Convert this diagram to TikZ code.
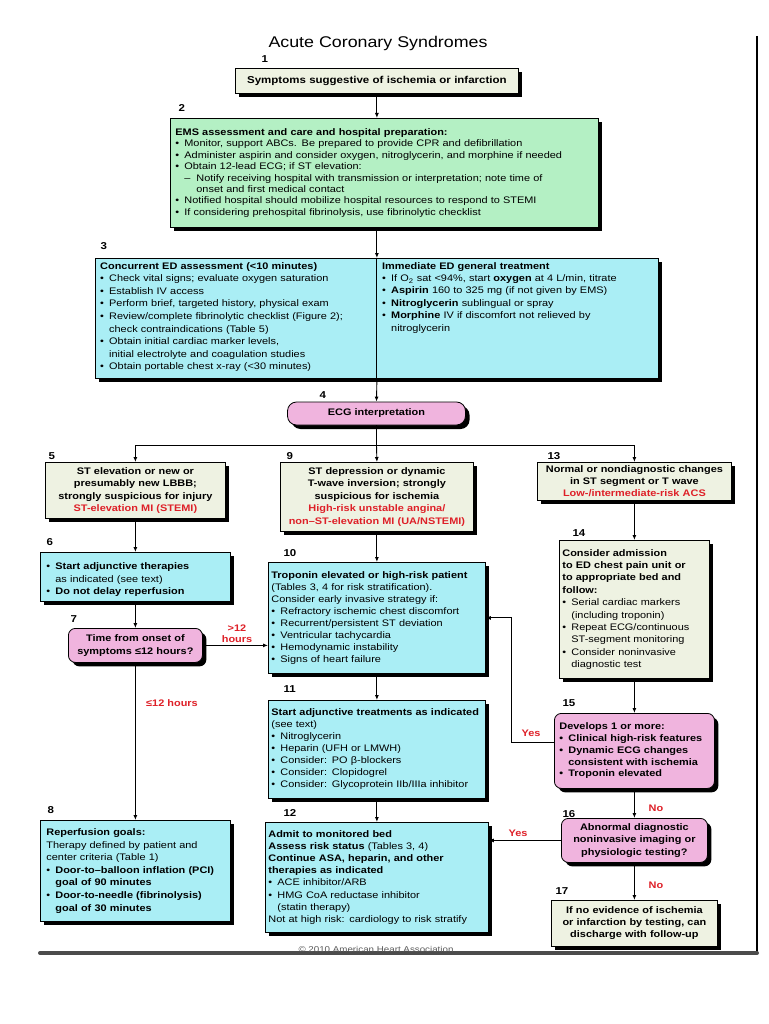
\documentclass[tikz,border=0pt]{standalone}
\usepackage{fontspec}
\setmainfont{Liberation Sans}[FakeStretch=1.15]
\usepackage{tikz}
\usetikzlibrary{arrows.meta, positioning, shadows, calc}

\definecolor{palebox}{RGB}{238,242,226}
\definecolor{emsgreen}{RGB}{180,240,196}
\definecolor{edcyan}{RGB}{170,238,245}
\definecolor{ecgpink}{RGB}{240,180,222}
\definecolor{riskred}{RGB}{222,32,40}

\setlength{\parindent}{0pt}
\newcommand{\bl}{\par\hangindent=9pt\hangafter=1\noindent\makebox[9pt][l]{\textbullet}}
\newcommand{\dl}{\par\hangindent=21pt\hangafter=1\noindent\hspace*{9pt}\makebox[12pt][l]{--}}
\newcommand{\red}[1]{\textcolor{riskred}{#1}}

\begin{document}
\begin{tikzpicture}[x=1pt, y=-1pt, >={Latex[length=5pt,width=4pt]},
  box/.style={draw=black, line width=0.8pt, fill=#1, anchor=north west,
    inner xsep=3pt, inner ysep=3pt, align=left,
    font=\fontsize{9.5}{12}\selectfont,
    drop shadow={shadow xshift=4pt, shadow yshift=-4pt, fill=black, opacity=1}},
  dbox/.style={box=#1, rounded corners=7pt},
  ctr/.style={align=center, font=\bfseries\fontsize{9.5}{12.5}\selectfont},
  num/.style={anchor=base west, font=\bfseries\fontsize{10}{12}\selectfont},
  ans/.style={text=riskred, align=center, font=\bfseries\fontsize{9.5}{11}\selectfont},
  line/.style={line width=0.9pt}]
  \useasboundingbox (0,0) rectangle (768,1024);

  % title and frame
  \node[font=\fontsize{15.5}{18}\selectfont] (title) at (378,43) {Acute Coronary Syndromes};
  \draw[line width=1.5pt] (757,36) -- (757,953);
  \draw[line width=4pt, gray!60!black, line cap=round] (40,953) -- (757,953);
  \node[font=\fontsize{8.5}{9}\selectfont, text=black!65] (copy) at (376,949) {\textcopyright\ 2010 American Heart Association};

  % step 1 and 2
  \node[num] (n1) at (258,63) {1};
  \node[box=palebox, ctr, text width=277pt, minimum height=25pt, font=\bfseries\fontsize{10}{12}\selectfont] (b1) at (235,68)
    {Symptoms suggestive of ischemia or infarction};
  \node[num] (n2) at (175,112) {2};
  \node[box=emsgreen, text width=418pt, inner xsep=5pt, minimum height=109pt, font=\fontsize{9.5}{11.4}\selectfont] (b2) at (170,118)
    {\textbf{EMS assessment and care and hospital preparation:}
    \bl Monitor, support ABCs. Be prepared to provide CPR and defibrillation
    \bl Administer aspirin and consider oxygen, nitroglycerin, and morphine if needed
    \bl Obtain 12-lead ECG; if ST elevation:
    \dl Notify receiving hospital with transmission or interpretation; note time of\newline onset and first medical contact
    \bl Notified hospital should mobilize hospital resources to respond to STEMI
    \bl If considering prehospital fibrinolysis, use fibrinolytic checklist\par};

  % step 3 (two halves split by the main line)
  \node[num] (n3) at (97,249) {3};
  \node[box=edcyan, minimum width=563pt, minimum height=120pt] (b3) at (95,258) {};
  \node[anchor=north west, text width=272pt, inner sep=0pt, align=left, font=\fontsize{9.5}{12.6}\selectfont] (b3l) at (100,262)
    {\textbf{Concurrent ED assessment (<10 minutes)}
    \bl Check vital signs; evaluate oxygen saturation
    \bl Establish IV access
    \bl Perform brief, targeted history, physical exam
    \bl Review/complete fibrinolytic checklist (Figure 2);\newline check contraindications (Table 5)
    \bl Obtain initial cardiac marker levels,\newline initial electrolyte and coagulation studies
    \bl Obtain portable chest x-ray (<30 minutes)\par};
  \node[anchor=north west, text width=272pt, inner sep=0pt, align=left, font=\fontsize{9.5}{12.4}\selectfont] (b3r) at (382,262)
    {\textbf{Immediate ED general treatment}
    \bl If O\textsubscript{2} sat <94\%, start \textbf{oxygen} at 4 L/min, titrate
    \bl \textbf{Aspirin} 160 to 325 mg (if not given by EMS)
    \bl \textbf{Nitroglycerin} sublingual or spray
    \bl \textbf{Morphine} IV if discomfort not relieved by\newline nitroglycerin\par};

  % step 4
  \node[num] (n4) at (316,398) {4};
  \node[dbox=ecgpink, ctr, anchor=center, minimum width=178pt, minimum height=23pt, rounded corners=9pt] (b4) at (376.5,413.5)
    {ECG interpretation};

  % three branches
  \node[num] (n5) at (45,459) {5};
  \node[box=palebox, ctr, text width=174pt, minimum height=56pt] (b5) at (45,462)
    {ST elevation or new or\\presumably new LBBB;\\strongly suspicious for injury\\\red{ST-elevation MI (STEMI)}};
  \node[num] (n9) at (283,459) {9};
  \node[box=palebox, ctr, text width=187pt, minimum height=69pt] (b9) at (280,462)
    {ST depression or dynamic\\T-wave inversion; strongly\\suspicious for ischemia\\\red{High-risk unstable angina/}\\\red{non--ST-elevation MI (UA/NSTEMI)}};
  \node[num] (n13) at (544,459) {13};
  \node[box=palebox, ctr, text width=188pt, minimum height=38pt, font=\bfseries\fontsize{9.5}{12}\selectfont] (b13) at (537,462)
    {Normal or nondiagnostic changes\\in ST segment or T wave\\\red{Low-/intermediate-risk ACS}};

  % STEMI column
  \node[num] (n6) at (43,545) {6};
  \node[box=edcyan, text width=178pt, inner xsep=6pt, minimum height=49pt, font=\fontsize{9.5}{12.5}\selectfont] (b6) at (40,552)
    {\bl \textbf{Start adjunctive therapies}\newline as indicated (see text)
    \bl \textbf{Do not delay reperfusion}\par};
  \node[num] (n7) at (67,622) {7};
  \node[dbox=ecgpink, ctr, text width=128pt, minimum height=34pt] (b7) at (68,628)
    {Time from onset of\\symptoms ≤12 hours?};
  \node[num] (n8) at (44,813) {8};
  \node[box=edcyan, text width=178pt, inner xsep=6pt, minimum height=101pt, font=\fontsize{9.5}{12.6}\selectfont] (b8) at (40,820)
    {\textbf{Reperfusion goals:}\newline Therapy defined by patient and\newline center criteria (Table 1)
    \bl \textbf{Door-to--balloon inflation (PCI)\newline goal of 90 minutes}
    \bl \textbf{Door-to-needle (fibrinolysis)\newline goal of 30 minutes}\par};

  % UA/NSTEMI column
  \node[num] (n10) at (280,556) {10};
  \node[box=edcyan, text width=211pt, minimum height=111pt] (b10) at (268,562)
    {\mbox{\textbf{Troponin elevated or high-risk patient}}\newline (Tables 3, 4 for risk stratification).\newline Consider early invasive strategy if:
    \bl Refractory ischemic chest discomfort
    \bl Recurrent/persistent ST deviation
    \bl Ventricular tachycardia
    \bl Hemodynamic instability
    \bl Signs of heart failure\par};
  \node[num] (n11) at (280,692) {11};
  \node[box=edcyan, text width=211pt, minimum height=98pt] (b11) at (268,700)
    {\mbox{\textbf{Start adjunctive treatments as indicated}}\newline (see text)
    \bl Nitroglycerin
    \bl Heparin (UFH or LMWH)
    \bl Consider: PO β-blockers
    \bl Consider: Clopidogrel
    \bl Consider: Glycoprotein IIb/IIIa inhibitor\par};
  \node[num] (n12) at (280,816) {12};
  \node[box=edcyan, text width=217pt, minimum height=110pt, font=\fontsize{9.5}{12.2}\selectfont] (b12) at (265,822)
    {\textbf{Admit to monitored bed}\newline \textbf{Assess risk status} (Tables 3, 4)\newline \textbf{Continue ASA, heparin, and other\newline therapies as indicated}
    \bl ACE inhibitor/ARB
    \bl HMG CoA reductase inhibitor\newline (statin therapy)
    \par\mbox{Not at high risk: cardiology to risk stratify}\par};

  % low/intermediate-risk column
  \node[num] (n14) at (569,536) {14};
  \node[box=palebox, text width=144pt, minimum height=138pt, font=\fontsize{9.5}{12.4}\selectfont] (b14) at (559,540)
    {\textbf{Consider admission\newline to ED chest pain unit or\newline to appropriate bed and\newline follow:}
    \bl Serial cardiac markers\newline (including troponin)
    \bl Repeat ECG/continuous\newline ST-segment monitoring
    \bl Consider noninvasive\newline diagnostic test\par};
  \node[num] (n15) at (559,706) {15};
  \node[dbox=ecgpink, text width=150pt, inner xsep=5pt, minimum height=75pt, font=\bfseries\fontsize{9.5}{11.8}\selectfont] (b15) at (554,713)
    {Develops 1 or more:
    \bl Clinical high-risk features
    \bl Dynamic ECG changes\newline consistent with ischemia
    \bl Troponin elevated\par};
  \node[num] (n16) at (559,817) {16};
  \node[dbox=ecgpink, ctr, text width=140pt, minimum height=44pt] (b16) at (561,818)
    {Abnormal diagnostic\\noninvasive imaging or\\physiologic testing?};
  \node[num] (n17) at (552,894) {17};
  \node[box=palebox, ctr, text width=160pt, minimum height=46pt, font=\bfseries\fontsize{9.5}{12}\selectfont] (b17) at (551,900)
    {If no evidence of ischemia\\or infarction by testing, can\\discharge with follow-up};

  % connectors
  \draw[line, ->] (b1.south) -- (b1.south |- b2.north);
  \draw[line, ->] (b2.south -| b3.north) -- (b3.north);
  \draw[line] (b3.north) -- (b3.south);
  \draw[line, ->] (b3.south) -- (b4.north);
  \coordinate (bus) at ($(b4.south)+(0,20)$);
  \draw[line] (b4.south) -- (bus);
  \draw[line, ->] (bus) -- (b9.north);
  \draw[line, ->] (bus) -| (b5.north);
  \draw[line, ->] (bus) -| (b13.north);
  \draw[line, ->] (b5) -- (b6);
  \draw[line, ->] (b6) -- (b7);
  \draw[line, ->] (b7) -- (b8);
  \draw[line, ->] (b7.east) -- (b7.east -| b10.west);
  \draw[line, ->] (b9) -- (b10);
  \draw[line, ->] (b10) -- (b11);
  \draw[line, ->] (b11) -- (b12);
  \draw[line, ->] (b13) -- (b14);
  \draw[line, ->] (b14) -- (b15);
  \draw[line, ->] (b15) -- (b16);
  \draw[line, ->] (b16) -- (b17);
  \draw[line, ->] ([yshift=8pt]b15.west) -- ++(-43,0) |- (b10.east);
  \draw[line, ->] (b16.west) -- (b16.west -| b12.east);

  % answers
  \node[ans] (gt12) at (237,634) {>12\\hours};
  \node[ans] (le12) at (172,703) {≤12 hours};
  \node[ans] (yes15) at (531,733) {Yes};
  \node[ans] (no15) at (656,808) {No};
  \node[ans] (yes16) at (518,833) {Yes};
  \node[ans] (no16) at (656,885) {No};
\end{tikzpicture}
\end{document}
